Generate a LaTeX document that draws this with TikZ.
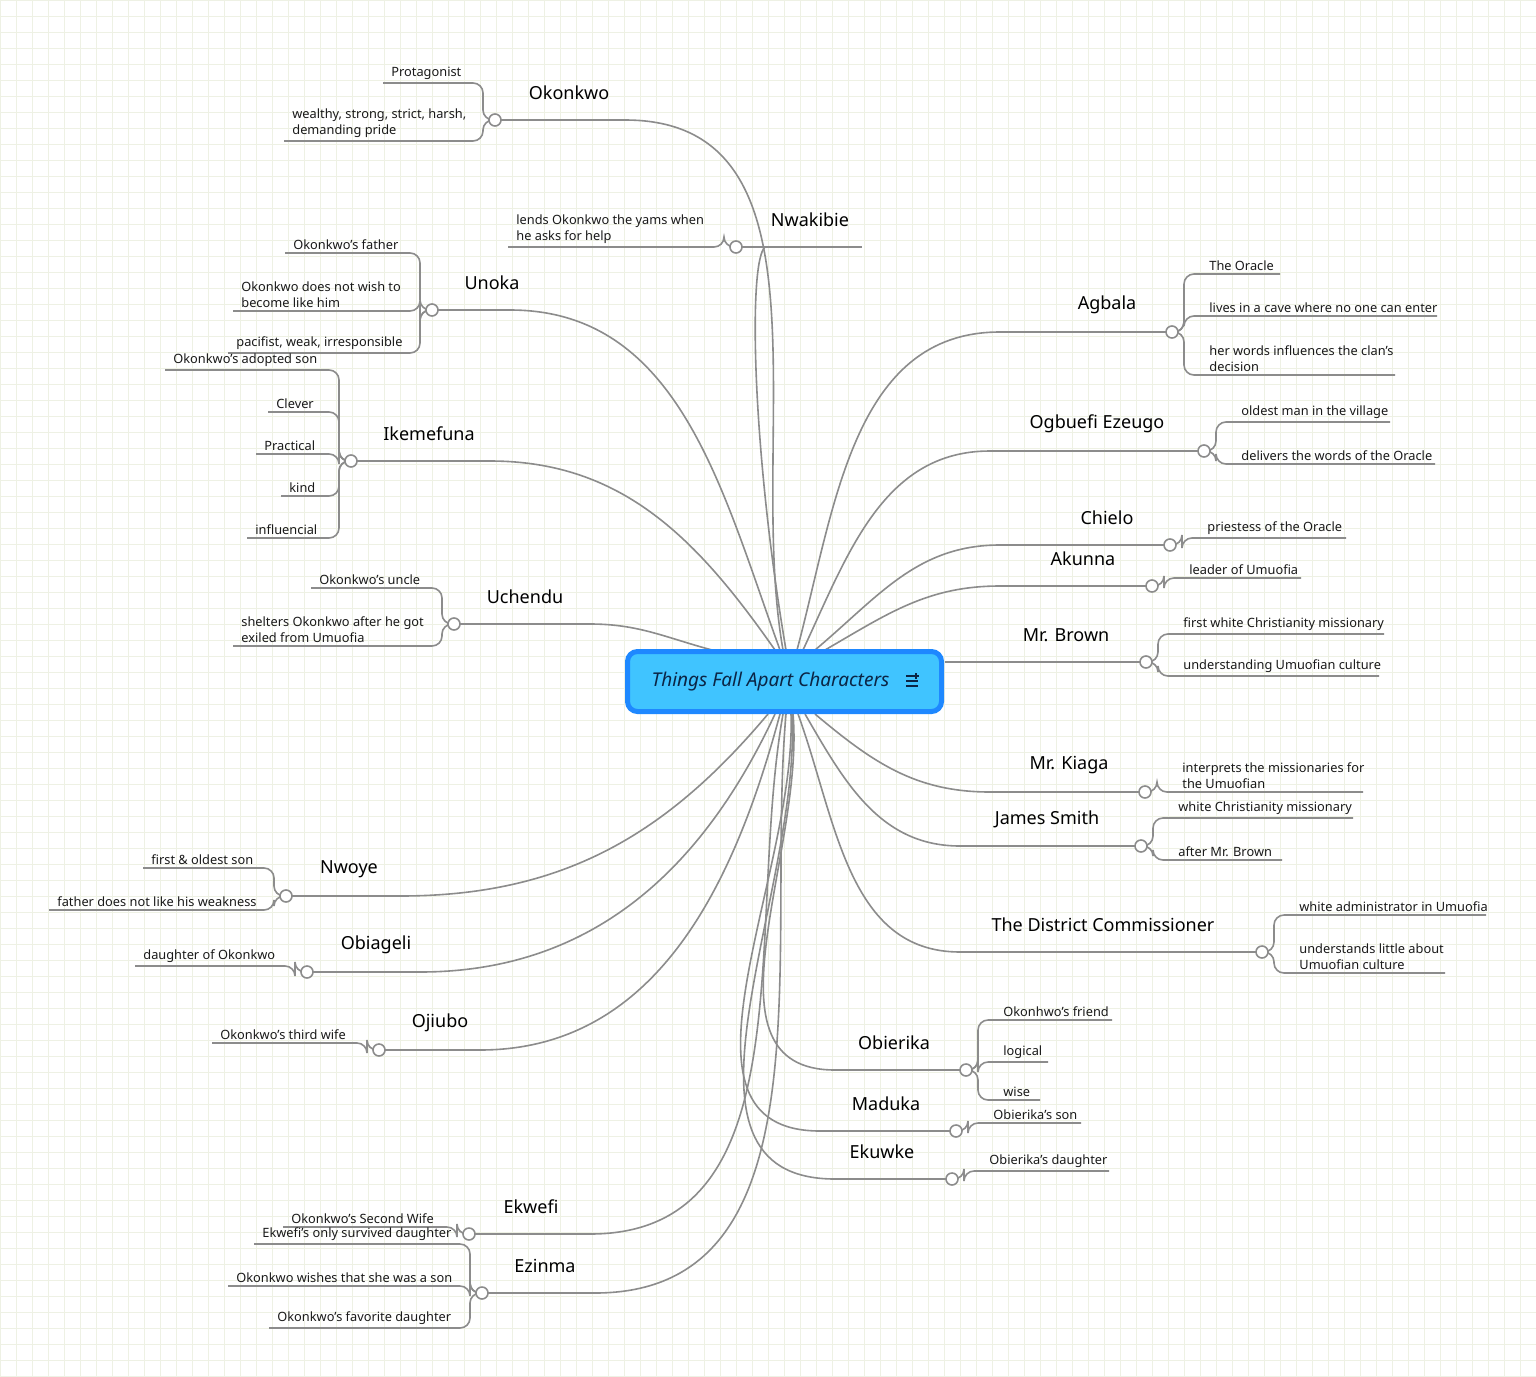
\documentclass[tikz,border=0pt]{standalone}
\usepackage{fontspec}
\setmainfont{Noto Sans}
\usetikzlibrary{calc}
\definecolor{gridc}{HTML}{EEF1E4}
\definecolor{brc}{HTML}{8C8C8C}
\definecolor{cfill}{HTML}{40C4FF}
\definecolor{cborder}{HTML}{1E88FF}
\definecolor{ctext}{HTML}{0B2545}
\tikzset{
 br/.style={draw=brc,line width=0.8pt},
 item/.style={inner sep=0pt,align=left,font=\fontsize{6.4}{8}\selectfont,text=black!90},
 topic/.style={inner sep=0pt,font=\fontsize{9}{11}\selectfont\bfseries,text=black},
 dot/.style={circle,draw=brc,fill=white,line width=0.8pt,minimum size=6pt,inner sep=0pt},
}
\newcommand\subL[6]{\draw[br,rounded corners=5pt] (#4,#5) -| (#2-12,#3) -- (#2,#3);
 \node[item,anchor=south west] (#1) at (#4+8,#5-3) {#6};}
\newcommand\subR[6]{\draw[br,rounded corners=5pt] (#2,#3) -- (#2+12,#3) |- (#5,#4);
 \node[item,anchor=south west] (#1) at (#2+37,#4-3) {#6};}
\newcommand\topicL[6]{\coordinate (#1c) at (#2,#3); \coordinate (#1e) at (#4,#3);
 \draw[br] (#1c) -- (#1e); \node[topic] (#1t) at (#6,#3-27) {#5};}
\newcommand\topicR[6]{\coordinate (#1c) at (#3,#4); \coordinate (#1e) at (#2,#4);
 \draw[br] (#1e) -- (#1c); \node[topic] (#1t) at (#6,#4-27) {#5};}
\begin{document}
\begin{tikzpicture}[x=0.5pt,y=-0.5pt]
\useasboundingbox (0,0) rectangle (1536,1376);
\fill[white] (0,0) rectangle (1536,1376);
\draw[gridc,line width=0.4pt] (0,0) grid[step=8pt] (1536,1376);
% topics left
\topicL{ok}{495}{120}{625}{Okonkwo}{569}
\topicL{nw}{736}{247}{862}{Nwakibie}{810}
\topicL{un}{432}{310}{510}{Unoka}{492}
\topicL{ik}{351}{461}{490}{Ikemefuna}{429}
\topicL{uc}{454}{624}{590}{Uchendu}{525}
\topicL{ny}{286}{896}{400}{Nwoye}{349}
\topicL{ob}{307}{972}{420}{Obiageli}{376}
\topicL{oj}{379}{1050}{480}{Ojiubo}{440}
\topicL{ew}{469}{1234}{590}{Ekwefi}{531}
\topicL{ez}{482}{1293}{595}{Ezinma}{545}
% topics right
\topicR{ag}{1000}{1172}{332}{Agbala}{1107}
\topicR{oe}{990}{1204}{451}{Ogbuefi Ezeugo}{1097}
\topicR{ch}{1000}{1170}{545}{Chielo}{1107}
\topicR{ak}{1000}{1152}{586}{Akunna}{1083}
\topicR{mb}{945}{1146}{662}{Mr. Brown}{1066}
\topicR{mk}{990}{1145}{792}{Mr. Kiaga}{1069}
\topicR{js}{960}{1141}{846}{James Smith}{1047}
\topicR{dc}{960}{1262}{952}{The District Commissioner}{1103}
\topicR{oi}{835}{966}{1070}{Obierika}{894}
\topicR{md}{820}{956}{1131}{Maduka}{886}
\topicR{ek}{835}{952}{1179}{Ekuwke}{882}
% connectors
\draw[br] (oke) to[out=0,in=100] (783,650);
\draw[br] (786,650) .. controls (752,450) and (748,262) .. (765,247);
\draw[br] (une) to[out=0,in=110] (780,650);
\draw[br] (ike) to[out=0,in=125] (775,650);
\draw[br] (uce) to[out=0,in=165] (712,650);
\draw[br] (age) to[out=180,in=75] (797,650);
\draw[br] (oee) to[out=180,in=65] (803,650);
\draw[br] (che) to[out=180,in=40] (815,650);
\draw[br] (ake) to[out=180,in=30] (825,650);
\draw[br] (mke) to[out=180,in=-40] (815,714);
\draw[br] (jse) to[out=180,in=-60] (805,714);
\draw[br] (dce) to[out=180,in=-70] (798,714);
\draw[br] (oie) to[out=180,in=-85] (793,714);
\draw[br] (mde) to[out=180,in=-88] (791,714);
\draw[br] (eke) to[out=180,in=-87] (792,714);
\draw[br] (nye) to[out=0,in=-130] (768,714);
\draw[br] (obe) to[out=0,in=-115] (775,714);
\draw[br] (oje) to[out=0,in=-105] (780,714);
\draw[br] (ewe) to[out=0,in=-100] (783,714);
\draw[br] (eze) to[out=0,in=-95] (786,714);
% sub items left
\subL{ok1}{495}{120}{383}{83}{Protagonist}
\subL{ok2}{495}{120}{284}{141}{wealthy, strong, strict, harsh,\\demanding pride}
\subL{nw1}{736}{247}{508}{247}{lends Okonkwo the yams when\\he asks for help}
\subL{un1}{432}{310}{285}{253}{Okonkwo's father}
\subL{un2}{432}{310}{233}{311}{Okonkwo does not wish to\\become like him}
\subL{un3}{432}{310}{228}{353}{pacifist, weak, irresponsible}
\subL{ik1}{351}{461}{165}{370}{Okonkwo's adopted son}
\subL{ik2}{351}{461}{268}{412}{Clever}
\subL{ik3}{351}{461}{256}{454}{Practical}
\subL{ik4}{351}{461}{281}{496}{kind}
\subL{ik5}{351}{461}{247}{538}{influencial}
\subL{uc1}{454}{624}{311}{588}{Okonkwo's uncle}
\subL{uc2}{454}{624}{233}{646}{shelters Okonkwo after he got\\exiled from Umuofia}
\subL{ny1}{286}{896}{143}{868}{first \& oldest son}
\subL{ny2}{286}{896}{49}{910}{father does not like his weakness}
\subL{ob1}{307}{972}{135}{966}{daughter of Okonkwo}
\subL{oj1}{379}{1050}{212}{1043}{Okonkwo's third wife}
\subL{ew1}{469}{1234}{283}{1227}{Okonkwo's Second Wife}
\subL{ez1}{482}{1293}{254}{1244}{Ekwefi's only survived daughter}
\subL{ez2}{482}{1293}{228}{1286}{Okonkwo wishes that she was a son}
\subL{ez3}{482}{1293}{269}{1328}{Okonkwo's favorite daughter}
% sub items right
\subR{ag1}{1172}{332}{274}{1280}{The Oracle}
\subR{ag2}{1172}{332}{316}{1437}{lives in a cave where no one can enter}
\subR{ag3}{1172}{332}{375}{1395}{her words influences the clan's\\decision}
\subR{oe1}{1204}{451}{422}{1390}{oldest man in the village}
\subR{oe2}{1204}{451}{464}{1435}{delivers the words of the Oracle}
\subR{ch1}{1170}{545}{538}{1346}{priestess of the Oracle}
\subR{ak1}{1152}{586}{578}{1301}{leader of Umuofia}
\subR{mb1}{1146}{662}{634}{1384}{first white Christianity missionary}
\subR{mb2}{1146}{662}{676}{1379}{understanding Umuofian culture}
\subR{mk1}{1145}{792}{792}{1363}{interprets the missionaries for\\the Umuofian}
\subR{js1}{1141}{846}{818}{1353}{white Christianity missionary}
\subR{js2}{1141}{846}{860}{1282}{after Mr. Brown}
\subR{dc1}{1262}{952}{915}{1486}{white administrator in Umuofia}
\subR{dc2}{1262}{952}{973}{1445}{understands little about\\Umuofian culture}
\subR{oi1}{966}{1070}{1020}{1112}{Okonhwo's friend}
\subR{oi2}{966}{1070}{1062}{1048}{logical}
\subR{oi3}{966}{1070}{1100}{1040}{wise}
\subR{md1}{956}{1131}{1123}{1081}{Obierika's son}
\subR{ek1}{952}{1179}{1171}{1109}{Obierika's daughter}
% dots
\foreach \n in {ok,nw,un,ik,uc,ny,ob,oj,ew,ez,ag,oe,ch,ak,mb,mk,js,dc,oi,md,ek}
  \node[dot] (\n d) at (\n c) {};
% center
\node[draw=cborder,fill=cfill,line width=2.5pt,rounded corners=5pt,minimum width=157pt,minimum height=30pt,
 font=\fontsize{9.5}{11}\selectfont\bfseries\itshape,text=ctext] (C) at (784.5,681.5)
 {\hspace*{-14pt}Things Fall Apart Characters};
\draw[ctext,line width=0.6pt] (906,676) -- (914,676) (906,681) -- (918,681) (906,686) -- (918,686)
 (916,673) -- (916,679) (913,676) -- (919,676);
\end{tikzpicture}
\end{document}
